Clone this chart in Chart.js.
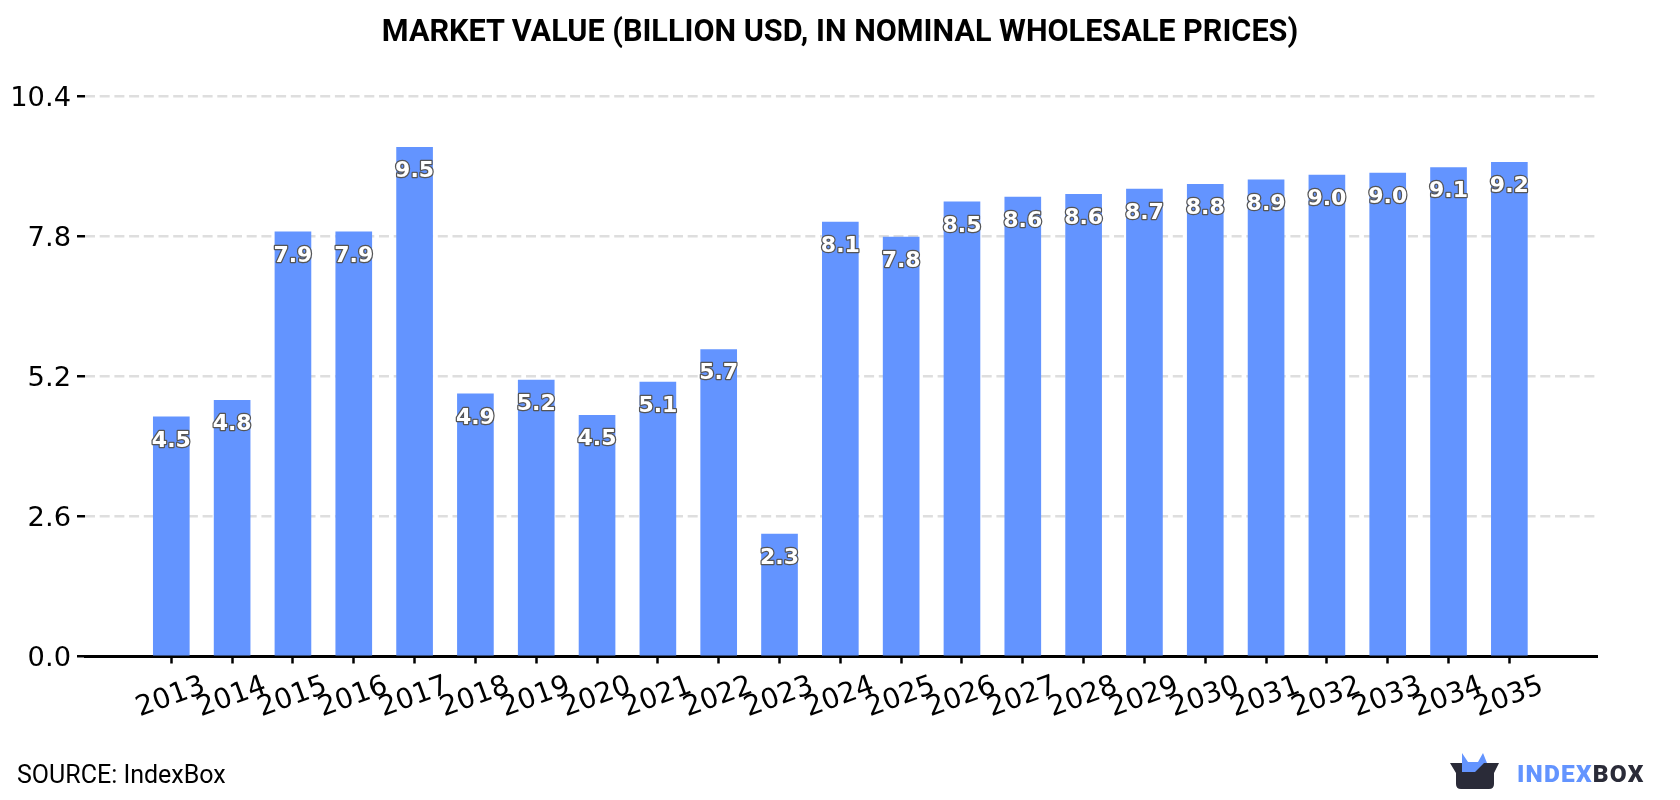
<!DOCTYPE html>
<html>
<head>
<meta charset="utf-8">
<title>Market value</title>
<script src="https://cdn.jsdelivr.net/npm/chart.js@4"></script>
<style>
    html, body { margin: 0; padding: 0; background: #fff; }
    #wrap { position: relative; width: 1680px; height: 800px; overflow: hidden; }
    canvas { display: block; }
    #chartTitle { position: absolute; left: 0; width: 1680px; top: 13px; text-align: center; font: bold 30.6px Roboto, sans-serif; color: #000; }
    #source { position: absolute; left: 17px; top: 760px; font: 25px Roboto, sans-serif; color: #000; }
    #logo { position: absolute; left: 1440px; top: 745px; }
</style>
</head>
<body>
<div id="wrap">
    <canvas id="marketChart" width="1680" height="800"></canvas>
    <div id="chartTitle">MARKET VALUE (BILLION USD, IN NOMINAL WHOLESALE PRICES)</div>
    <div id="source">SOURCE: IndexBox</div>
    <svg id="logo" width="230" height="50" viewBox="0 0 230 50">
        <path d="M22 8 L28 17 L38 17 L43 8 L47 18 L47 24 L35 36 L22 36 Z" fill="#6394ff"/>
        <path d="M10 18 L22 18 L22 27 L35 27 L44 18 L59 18 L54 28 L54 39 Q54 44 49 44 L21 44 Q16 44 16 39 L16 28 Z" fill="#2a2b38"/>
        <text y="37" font-family="Roboto, sans-serif" font-weight="900" font-size="24.5">
            <tspan x="77" fill="#6394ff" letter-spacing="1.2">INDEX</tspan><tspan fill="#2a2b38" letter-spacing="1.2">BOX</tspan>
        </text>
    </svg>
</div>
<script>
// categories and series
const years = [2013, 2014, 2015, 2016, 2017, 2018, 2019, 2020, 2021, 2022, 2023, 2024,
    2025, 2026, 2027, 2028, 2029, 2030, 2031, 2032, 2033, 2034, 2035];
const marketValue = [4.48, 4.79, 7.94, 7.94, 9.52, 4.91, 5.17, 4.51, 5.13, 5.74, 2.29, 8.12,
    7.84, 8.50, 8.59, 8.64, 8.74, 8.83, 8.91, 9.00, 9.04, 9.14, 9.24];

// y axis ticks
const yTickValues = [0, 2.6175, 5.235, 7.8525, 10.47];
const yTickLabels = ['0.0', '2.6', '5.2', '7.8', '10.4'];

// x axis runs past the first and last year
const xMin = 2011.581;
const xMax = 2036.441;

const barColor = '#6394ff';

// value labels inside the top of each bar, white with a grey outline
const barLabels = {
    id: 'barLabels',
    afterDatasetsDraw(chart) {
        const ctx = chart.ctx;
        ctx.save();
        ctx.font = 'bold 22px "DejaVu Sans"';
        ctx.textAlign = 'center';
        ctx.textBaseline = 'middle';
        ctx.lineJoin = 'round';
        chart.getDatasetMeta(0).data.forEach(function(bar, i) {
            const text = marketValue[i].toFixed(1);
            ctx.lineWidth = 2.5;
            ctx.strokeStyle = '#555';
            ctx.strokeText(text, bar.x, bar.y + 24);
            ctx.fillStyle = '#fff';
            ctx.fillText(text, bar.x, bar.y + 24);
        });
        ctx.restore();
    }
};

new Chart(document.getElementById('marketChart'), {
    type: 'bar',
    data: {
        datasets: [{
            data: years.map((y, i) => ({ x: y, y: marketValue[i] })),
            backgroundColor: barColor,
            barThickness: 36
        }]
    },
    plugins: [barLabels],
    options: {
        responsive: false,
        animation: false,
        layout: { padding: { left: 0, right: 83, top: 96.5, bottom: 0 } },
        plugins: {
            legend: { display: false },
            tooltip: { enabled: false }
        },
        scales: {
            x: {
                type: 'linear',
                min: xMin,
                max: xMax,
                offset: false,
                afterFit(scale) { scale.height = 143.5; },
                afterBuildTicks(scale) {
                    scale.ticks = years.map(y => ({ value: y }));
                },
                border: { display: true, color: '#000', width: 3 },
                grid: {
                    offset: false,
                    drawOnChartArea: false,
                    drawTicks: true,
                    tickLength: 7,
                    tickColor: '#000',
                    tickWidth: 2.5
                },
                ticks: {
                    autoSkip: false,
                    minRotation: 20,
                    maxRotation: 20,
                    labelOffset: 33,
                    padding: 6,
                    color: '#000',
                    font: { family: 'DejaVu Sans', size: 28 },
                    callback: value => String(value)
                }
            },
            y: {
                min: 0,
                max: 10.47,
                afterFit(scale) { scale.width = 85; },
                afterBuildTicks(scale) {
                    scale.ticks = yTickValues.map(v => ({ value: v }));
                },
                border: { display: false, dash: [10, 4.7] },
                grid: {
                    color: '#dedede',
                    lineWidth: 2.5,
                    tickLength: 8,
                    tickColor: '#000',
                    tickWidth: 2.5
                },
                ticks: {
                    padding: 6,
                    labelOffset: 2,
                    color: '#000',
                    font: { family: 'DejaVu Sans', size: 27.3 },
                    callback: (value, index) => yTickLabels[index]
                }
            }
        }
    }
});
</script>
</body>
</html>
